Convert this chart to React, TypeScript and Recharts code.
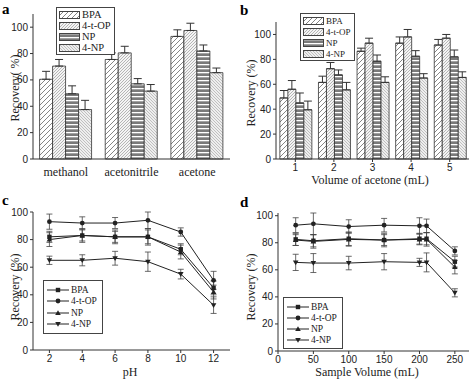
import React from 'react';
import { BarChart, Bar, LineChart, Line, XAxis, YAxis, ErrorBar, Legend } from 'recharts';

const SERIF = '"Liberation Serif", "DejaVu Serif", serif';
const SANS = '"Liberation Sans", Arial, sans-serif';
const INK = '#222';

const analytes = ['BPA', '4-t-OP', 'NP', '4-NP'];
const keys = ['bpa', 'top', 'np', 'nnp'];

// a: elution solvent
const solvents = ['methanol', 'acetonitrile', 'acetone'];
const bpaA = [60.5, 75.5, 93];
const topA = [70.5, 80.5, 97.5];
const npA = [49.5, 57, 82];
const nnpA = [37.5, 51.5, 65.5];
const bpaAErr = [6, 5, 5];
const topAErr = [5, 5, 5.5];
const npAErr = [6, 4, 4.5];
const nnpAErr = [7, 5, 3.5];

// b: volume of acetone
const volumes = ['1', '2', '3', '4', '5'];
const bpaB = [49, 61.5, 86.5, 93, 91.5];
const topB = [56, 72.5, 93, 98, 97];
const npB = [45, 67.5, 78.5, 82.5, 82];
const nnpB = [39.5, 55.5, 61.5, 65, 65.5];
const bpaBErr = [6, 5, 2.5, 5, 4.5];
const topBErr = [7, 5, 4, 6, 3];
const npBErr = [8, 4, 5, 4.5, 5.5];
const nnpBErr = [7, 6, 4.5, 3.5, 4.5];

// c: pH
const phs = [2, 4, 6, 8, 10, 12];
const bpaC = [82, 83, 82, 82, 73, 45];
const topC = [93, 92, 92, 94, 85.5, 50.5];
const npC = [80, 83, 82, 82, 71, 42];
const nnpC = [65, 65, 66.5, 64, 55, 32.5];
const bpaCErr = [4, 4, 4, 5, 4, 5];
const topCErr = [5.5, 4.5, 4, 6, 3, 6.5];
const npCErr = [5, 5, 5, 6, 5, 5];
const nnpCErr = [3, 4, 5, 7, 3.5, 6];

// d: sample volume
const sampleVols = [25, 50, 100, 150, 200, 210, 250];
const bpaD = [82.5, 81.5, 83, 82, 83, 83, 66];
const topD = [93, 94, 92, 93, 92.5, 92.5, 74];
const npD = [82, 81, 82.5, 82, 82.5, 82.5, 62];
const nnpD = [65.5, 65, 65, 66, 65.5, 65.5, 43];
const bpaDErr = [4.5, 4.5, 5, 4, 4, 4.5, 4];
const topDErr = [5.5, 8, 5, 5, 6, 5, 3];
const npDErr = [4, 5, 5, 5, 4, 5, 5];
const nnpDErr = [6, 7, 5, 6, 3, 7, 3];

const recoveryTicks = [0, 20, 40, 60, 80, 100];

function buildRows(xs: (string | number)[], vals: number[][], errs: number[][], oneSided: boolean) {
  return xs.map((x, i) => {
    const row: any = { x };
    keys.forEach((k, j) => {
      row[k] = vals[j][i];
      row[k + 'Err'] = oneSided ? [0, errs[j][i]] : errs[j][i];
    });
    return row;
  });
}

const dataA = buildRows(solvents, [bpaA, topA, npA, nnpA], [bpaAErr, topAErr, npAErr, nnpAErr], true);
const dataB = buildRows(volumes, [bpaB, topB, npB, nnpB], [bpaBErr, topBErr, npBErr, nnpBErr], true);
const dataC = buildRows(phs, [bpaC, topC, npC, nnpC], [bpaCErr, topCErr, npCErr, nnpCErr], false);
const dataD = buildRows(sampleVols, [bpaD, topD, npD, nnpD], [bpaDErr, topDErr, npDErr, nnpDErr], false);

function hatch(id: string, kind: string) {
  if (kind === 'bpa') {
    return (
      <pattern id={id} key={id} patternUnits="userSpaceOnUse" width={5} height={5}>
        <rect width={5} height={5} fill="#fff" />
        <path d="M-1,1 l2,-2 M0,5 l5,-5 M4,6 l2,-2" stroke="#777" strokeWidth={0.9} />
      </pattern>
    );
  }
  if (kind === 'top') {
    return (
      <pattern id={id} key={id} patternUnits="userSpaceOnUse" width={3} height={3}>
        <rect width={3} height={3} fill="#f4f4f4" />
        <path d="M-1,1 l2,-2 M0,3 l3,-3 M2,4 l2,-2" stroke="#999" strokeWidth={0.7} />
      </pattern>
    );
  }
  if (kind === 'np') {
    return (
      <pattern id={id} key={id} patternUnits="userSpaceOnUse" width={4} height={4}>
        <rect width={4} height={4} fill="#7a7a7a" />
        <rect y={0} width={4} height={1.3} fill="#fff" />
      </pattern>
    );
  }
  return (
    <pattern id={id} key={id} patternUnits="userSpaceOnUse" width={3} height={3}>
      <rect width={3} height={3} fill="#eee" />
      <path d="M-1,2 l2,2 M0,0 l3,3 M2,-1 l2,2" stroke="#aaa" strokeWidth={0.7} />
    </pattern>
  );
}

function BarLegend({ prefix, fontSize, rowH, swW }: { prefix: string; fontSize: number; rowH: number; swW: number }) {
  return (
    <div style={{ border: '1px solid #444', background: '#fff', padding: '1px 3px 1px 2px', fontFamily: SERIF, fontSize, color: INK }}>
      {analytes.map((name, i) => (
        <div key={name} style={{ display: 'flex', alignItems: 'center', height: rowH }}>
          <svg width={swW} height={8} style={{ marginRight: 2 }}>
            <defs>{hatch(`${prefix}-lg-${keys[i]}`, keys[i])}</defs>
            <rect x={0.5} y={0.5} width={swW - 1} height={7} fill={`url(#${prefix}-lg-${keys[i]})`} stroke="#444" />
          </svg>
          <span>{name}</span>
        </div>
      ))}
    </div>
  );
}

const markerKinds = ['square', 'circle', 'up', 'down'];

function Marker({ cx, cy, kind }: { cx: number; cy: number; kind: string }) {
  if (kind === 'square') return <rect x={cx - 2.2} y={cy - 2.2} width={4.4} height={4.4} fill={INK} />;
  if (kind === 'circle') return <circle cx={cx} cy={cy} r={2.4} fill={INK} />;
  if (kind === 'up') return <path d={`M${cx},${cy - 2.8} L${cx + 2.8},${cy + 2} L${cx - 2.8},${cy + 2} Z`} fill={INK} />;
  return <path d={`M${cx},${cy + 2.8} L${cx + 2.8},${cy - 2} L${cx - 2.8},${cy - 2} Z`} fill={INK} />;
}

function dotFor(kind: string) {
  return (props: any) => {
    const { cx, cy, index } = props;
    if (cx == null || cy == null) return <g key={`d-${index}`} />;
    return (
      <g key={`d-${kind}-${index}`}>
        <Marker cx={cx} cy={cy} kind={kind} />
      </g>
    );
  };
}

function LineLegend({ fontSize, rowH }: { fontSize: number; rowH: number }) {
  return (
    <div style={{ border: '1px solid #444', background: '#fff', padding: '3px 5px 3px 3px', fontFamily: SERIF, fontSize, color: INK }}>
      {analytes.map((name, i) => (
        <div key={name} style={{ display: 'flex', alignItems: 'center', height: rowH }}>
          <svg width={22} height={8} style={{ marginRight: 2 }}>
            <line x1={0} y1={4} x2={22} y2={4} stroke={INK} strokeWidth={1} />
            <Marker cx={11} cy={4} kind={markerKinds[i]} />
          </svg>
          <span>{name}</span>
        </div>
      ))}
    </div>
  );
}

const numTick = { fontSize: 10, fontFamily: SANS, fill: INK };
const axisLine = { stroke: '#333' };

function Title({ x, y, text, rotate, size = 12 }: { x: number; y: number; text: string; rotate?: boolean; size?: number }) {
  return (
    <div
      style={{
        position: 'absolute',
        left: x,
        top: y,
        transform: `translate(-50%, -50%)${rotate ? ' rotate(-90deg)' : ''}`,
        fontFamily: SERIF,
        fontSize: size,
        color: INK,
        whiteSpace: 'nowrap',
      }}
    >
      {text}
    </div>
  );
}

function PanelLetter({ x, y, text }: { x: number; y: number; text: string }) {
  return (
    <div style={{ position: 'absolute', left: x, top: y, fontFamily: SERIF, fontWeight: 'bold', fontSize: 15, color: '#000', lineHeight: 1 }}>
      {text}
    </div>
  );
}

function bars(prefix: string) {
  return keys.map((k) => (
    <Bar key={k} dataKey={k} fill={`url(#${prefix}-${k})`} stroke="#333" strokeWidth={0.8} isAnimationActive={false}>
      <ErrorBar dataKey={k + 'Err'} width={4} stroke="#333" strokeWidth={1} direction="y" />
    </Bar>
  ));
}

function lines() {
  return keys.map((k, i) => (
    <Line
      key={k}
      type="linear"
      dataKey={k}
      stroke={INK}
      strokeWidth={1}
      dot={dotFor(markerKinds[i])}
      activeDot={false}
      isAnimationActive={false}
    >
      <ErrorBar dataKey={k + 'Err'} width={3} stroke="#444" strokeWidth={0.8} direction="y" />
    </Line>
  ));
}

export default function App() {
  return (
    <div style={{ position: 'absolute', left: 0, top: 0, width: 474, height: 380, background: '#fff', overflow: 'hidden' }}>
      {/* a */}
      <div style={{ position: 'absolute', left: 0, top: 0 }}>
        <BarChart width={237} height={190} data={dataA} margin={{ top: 14, right: 7, left: 10, bottom: 6 }} barCategoryGap="10%" barGap={0}>
          <defs>{keys.map((k) => hatch(`a-${k}`, k))}</defs>
          <XAxis dataKey="x" height={25} tickLine={false} axisLine={axisLine} tick={{ fontSize: 12, fontFamily: SERIF, fill: INK }} />
          <YAxis width={23} domain={[0, 110]} ticks={recoveryTicks} tickSize={3} axisLine={axisLine} tickLine={axisLine} tick={numTick} />
          {bars('a')}
          <Legend layout="vertical" align="center" verticalAlign="middle" wrapperStyle={{ left: 56, top: 7, width: 'auto' }} content={() => <BarLegend prefix="a" fontSize={10.5} rowH={11} swW={21} />} />
        </BarChart>
      </div>
      {/* b */}
      <div style={{ position: 'absolute', left: 237, top: 0 }}>
        <BarChart width={237} height={190} data={dataB} margin={{ top: 22, right: 5, left: 14, bottom: 15 }} barCategoryGap="10%" barGap={0}>
          <defs>{keys.map((k) => hatch(`b-${k}`, k))}</defs>
          <XAxis dataKey="x" height={16} tickSize={3} axisLine={axisLine} tickLine={axisLine} tick={numTick} />
          <YAxis width={25} domain={[0, 110]} ticks={recoveryTicks} tickSize={3} axisLine={axisLine} tickLine={axisLine} tick={numTick} />
          {bars('b')}
          <Legend layout="vertical" align="center" verticalAlign="middle" wrapperStyle={{ left: 63, top: 13, width: 'auto' }} content={() => <BarLegend prefix="b" fontSize={9} rowH={11} swW={21} />} />
        </BarChart>
      </div>
      {/* c */}
      <div style={{ position: 'absolute', left: 0, top: 190 }}>
        <LineChart width={237} height={190} data={dataC} margin={{ top: 22, right: 7, left: 10, bottom: 14 }}>
          <XAxis dataKey="x" type="number" domain={[1, 13]} ticks={phs} height={16} tickSize={3} axisLine={axisLine} tickLine={axisLine} tick={numTick} />
          <YAxis width={23} domain={[0, 100]} ticks={recoveryTicks} tickSize={3} axisLine={axisLine} tickLine={axisLine} tick={numTick} />
          {lines()}
          <Legend layout="vertical" align="center" verticalAlign="middle" wrapperStyle={{ left: 43, top: 90, width: 'auto' }} content={() => <LineLegend fontSize={9.5} rowH={11.5} />} />
        </LineChart>
      </div>
      {/* d */}
      <div style={{ position: 'absolute', left: 237, top: 190 }}>
        <LineChart width={237} height={190} data={dataD} margin={{ top: 23, right: 5, left: 14, bottom: 13 }}>
          <XAxis dataKey="x" type="number" domain={[0, 270]} ticks={[0, 50, 100, 150, 200, 250]} height={16} tickSize={3} axisLine={axisLine} tickLine={axisLine} tick={numTick} />
          <YAxis width={27} domain={[0, 100]} ticks={recoveryTicks} tickSize={3} axisLine={axisLine} tickLine={axisLine} tick={numTick} />
          {lines()}
          <Legend layout="vertical" align="center" verticalAlign="middle" wrapperStyle={{ left: 46, top: 107, width: 'auto' }} content={() => <LineLegend fontSize={9.5} rowH={11} />} />
        </LineChart>
      </div>

      <PanelLetter x={2} y={2} text="a" />
      <PanelLetter x={240} y={3} text="b" />
      <PanelLetter x={2} y={193} text="c" />
      <PanelLetter x={240} y={195} text="d" />

      <Title x={15} y={88} text="Recovery( %)" rotate />
      <Title x={251} y={93} text="Recovery (%)" rotate />
      <Title x={370} y={180} text="Volume of acetone (mL)" />
      <Title x={15} y={287} text="Recovery (%)" rotate />
      <Title x={130} y={372} text="pH" />
      <Title x={251} y={287} text="Recovery (%)" rotate />
      <Title x={367} y={372} text="Sample Volume (mL)" />
    </div>
  );
}
